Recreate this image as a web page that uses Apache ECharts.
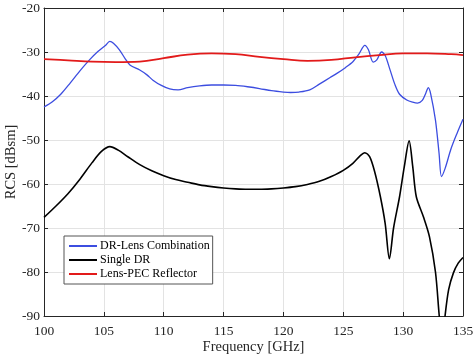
<!DOCTYPE html>
<html>
<head>
<meta charset="utf-8">
<script src="https://cdn.jsdelivr.net/npm/echarts@6/dist/echarts.min.js"></script>
<style>html,body{margin:0;padding:0;background:#fff}#c{width:474px;height:355px}</style>
</head>
<body>
<div id="c"></div>
<script>
const seriesNames = ['DR-Lens Combination', 'Single DR', 'Lens-PEC Reflector'];

const blueF = [100, 100.7, 101.4, 102.2, 103, 103.8, 104.5, 105.1, 105.5, 105.8, 106.3, 106.8, 107.2, 108, 108.6, 109.1, 109.8, 110.5, 111.2, 112, 113, 114, 115, 116, 117, 118, 119, 120, 120.6, 121.3, 122.2, 123, 123.9, 124.5, 125.2, 125.8, 126.3, 126.8, 127.1, 127.5, 127.8, 128.2, 128.5, 128.9, 129.3, 129.7, 130.3, 130.8, 131.2, 131.6, 131.9, 132.1, 132.3, 132.7, 133.0, 133.2, 133.5, 134, 134.5, 135];
const blueV = [-42.5, -41.3, -39.6, -37, -34.3, -31.8, -29.9, -28.6, -27.6, -28, -29.5, -31.6, -33, -34.1, -35.2, -36.4, -37.6, -38.4, -38.6, -38.1, -37.7, -37.5, -37.5, -37.6, -37.9, -38.3, -38.8, -39.1, -39.2, -39.1, -38.6, -37.3, -35.8, -34.8, -33.5, -32.2, -30.5, -28.5, -29.5, -32.3, -31.8, -30, -30.8, -34, -37.3, -39.6, -40.9, -41.4, -41.6, -41, -39.3, -38.1, -39.5, -45.5, -53, -58.3, -56.5, -52, -48.5, -45.3];

const blackF = [100, 101, 102, 103, 104, 104.8, 105.5, 106.2, 107, 108, 109, 110, 111, 112, 113, 114, 115, 116, 117, 118, 119, 120, 121, 122, 123, 124, 125, 125.8, 126.4, 126.8, 127.2, 127.6, 128.1, 128.5, 128.85, 129.2, 129.7, 130.1, 130.5, 130.8, 131.1, 131.7, 132.2, 132.7, 133.0, 133.25, 133.5, 133.8, 134.2, 134.6, 135];
const blackV = [-67.6, -65, -62.2, -58.9, -55.2, -52.6, -51.5, -52.3, -53.8, -55.6, -57, -58.1, -59, -59.6, -60.2, -60.6, -60.9, -61.1, -61.2, -61.2, -61.1, -60.9, -60.6, -60.1, -59.4, -58.3, -56.9, -55.3, -53.6, -52.9, -53.8, -57, -62.9, -69, -77, -70, -62.9, -56, -50.2, -56, -62.9, -67.5, -72, -80, -89.5, -97, -90, -84, -80.2, -78, -76.7];

const redF = [100, 102, 104, 106, 108, 110, 112, 114, 116, 118, 120, 122, 124, 126, 128, 130, 132, 134, 135];
const redV = [-31.6, -31.9, -32.2, -32.3, -32.2, -31.4, -30.6, -30.3, -30.5, -31.1, -31.6, -32.0, -31.8, -31.2, -30.7, -30.3, -30.3, -30.5, -30.7];

const xMin = 100, xMax = 135, xStep = 5;
const yMin = -90, yMax = -20, yStep = 10;

const pairs = (f, v) => f.map((x, i) => [x, v[i]]);
const FONT = '"Liberation Serif", "Times New Roman", serif';
const AX = '#262626';

const chart = echarts.init(document.getElementById('c'), null, {renderer: 'canvas'});
const baseX = {type: 'value', min: xMin, max: xMax, interval: xStep,
  axisLine: {show: true, onZero: false, lineStyle: {color: AX, width: 1}},
  axisTick: {show: true, inside: true, length: 4, lineStyle: {color: AX}},
  splitLine: {show: false}};
const baseY = {type: 'value', min: yMin, max: yMax, interval: yStep,
  axisLine: {show: true, onZero: false, lineStyle: {color: AX, width: 1}},
  axisTick: {show: true, inside: true, length: 4, lineStyle: {color: AX}},
  splitLine: {show: false}};

chart.setOption({
  animation: false,
  backgroundColor: '#fff',
  grid: {left: 44, right: 11, top: 8, bottom: 39, containLabel: false, outerBoundsMode: 'none'},
  legend: {
    orient: 'vertical', left: 64, top: 236,
    data: seriesNames,
    icon: 'rect', itemWidth: 28, itemHeight: 2, itemGap: 0,
    backgroundColor: '#fff', borderColor: '#555', borderWidth: 1,
    padding: [3, 3, 3, 5],
    textStyle: {fontFamily: FONT, fontSize: 12, color: '#000', lineHeight: 14, padding: [0, 0, 0, -2]}
  },
  xAxis: [
    Object.assign({}, baseX, {position: 'bottom',
      name: 'Frequency [GHz]', nameLocation: 'middle', nameGap: 24, nameMoveOverlap: false,
      nameTextStyle: {fontFamily: FONT, fontSize: 14.5, color: '#262626'},
      axisLabel: {show: true, margin: 8, fontFamily: FONT, fontSize: 13.5, color: '#262626'},
      splitLine: {show: true, lineStyle: {color: '#e3e3e3', width: 1}}}),
    Object.assign({}, baseX, {position: 'top', axisLabel: {show: false}})
  ],
  yAxis: [
    Object.assign({}, baseY, {position: 'left',
      name: 'RCS [dBsm]', nameLocation: 'middle', nameGap: 25, nameRotate: 90, nameMoveOverlap: false,
      nameTextStyle: {fontFamily: FONT, fontSize: 14.5, color: '#262626'},
      axisLabel: {show: true, margin: 4, fontFamily: FONT, fontSize: 13.5, color: '#262626'},
      splitLine: {show: true, lineStyle: {color: '#e3e3e3', width: 1}}}),
    Object.assign({}, baseY, {position: 'right', axisLabel: {show: false}})
  ],
  series: [
    {name: seriesNames[0], type: 'line', data: pairs(blueF, blueV), smooth: 0.3, showSymbol: false,
     clip: true, lineStyle: {color: '#3c4de0', width: 1.3}, itemStyle: {color: '#3c4de0'}, z: 3},
    {name: seriesNames[1], type: 'line', data: pairs(blackF, blackV), smooth: 0.3, showSymbol: false,
     clip: true, lineStyle: {color: '#000', width: 1.6}, itemStyle: {color: '#000'}, z: 2},
    {name: seriesNames[2], type: 'line', data: pairs(redF, redV), smooth: 0.4, showSymbol: false,
     clip: true, lineStyle: {color: '#e21a1a', width: 1.8}, itemStyle: {color: '#e21a1a'}, z: 4}
  ]
});
</script>
</body>
</html>
